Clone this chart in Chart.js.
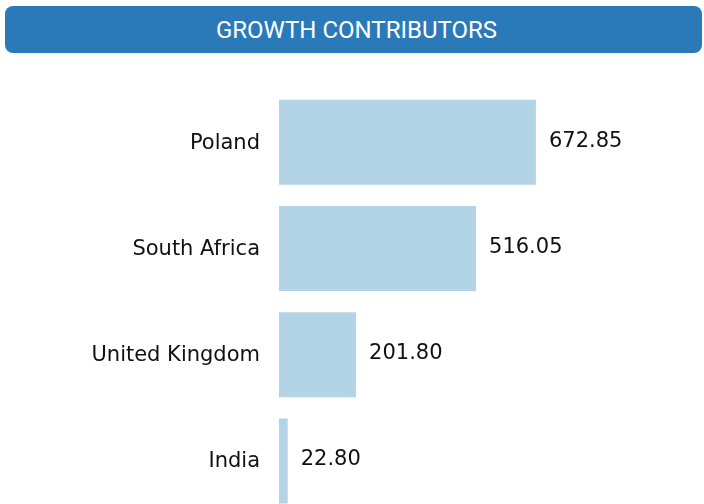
<!DOCTYPE html>
<html>
<head>
<meta charset="utf-8">
<script src="https://cdn.jsdelivr.net/npm/chart.js@4"></script>
<style>
  html, body { margin: 0; padding: 0; background: #fff; overflow: hidden; }
  body { width: 704px; height: 504px; position: relative; }
  .header {
    position: absolute; left: 5px; top: 6px; width: 697px; height: 47px;
    box-sizing: border-box; padding-left: 6px;
    background: #2a7aba; border-radius: 8px;
    color: #fff; font-family: Roboto, sans-serif; font-size: 24px;
    line-height: 49px; text-align: center;
  }
  .chart-box { position: absolute; left: 0; top: 89px; width: 704px; height: 425px; }
</style>
</head>
<body>
<div class="header">GROWTH CONTRIBUTORS</div>
<div class="chart-box"><canvas id="myChart"></canvas></div>
<script>
// countries and their contribution
const countries = ["Poland", "South Africa", "United Kingdom", "India"];
const contribution = [672.85, 516.05, 201.8, 22.8];

// write the value just right of each bar
const valueLabels = {
  id: "valueLabels",
  afterDatasetsDraw(chart) {
    const ctx = chart.ctx;
    const meta = chart.getDatasetMeta(0);
    ctx.save();
    ctx.font = "21px 'DejaVu Sans'";
    ctx.fillStyle = "#111";
    ctx.textAlign = "left";
    ctx.textBaseline = "middle";
    meta.data.forEach((bar, i) => {
      ctx.fillText(contribution[i].toFixed(2), bar.x + 13, bar.y - 1);
    });
    ctx.restore();
  },
};

const ctx = document.getElementById("myChart");
new Chart(ctx, {
  type: "bar",
  data: {
    labels: countries,
    datasets: [
      {
        data: contribution,
        backgroundColor: "#b3d4e6",
        borderWidth: 0,
        categoryPercentage: 1,
        barPercentage: 0.8,
      },
    ],
  },
  options: {
    indexAxis: "y",
    responsive: true,
    maintainAspectRatio: false,
    animation: false,
    layout: { padding: { top: 0, bottom: 0, left: 0, right: 5 } },
    plugins: {
      legend: { display: false },
      tooltip: { enabled: false },
    },
    scales: {
      x: {
        display: false,
        min: 0,
        max: 1100,
      },
      y: {
        grid: { display: false },
        border: { display: false },
        ticks: {
          color: "#111",
          padding: 11,
          labelOffset: 1,
          font: { family: "'DejaVu Sans'", size: 21 },
        },
        afterFit(scale) {
          // fixed label column, no extra room above/below the bars
          scale.width = 279;
          scale.paddingTop = 0;
          scale.paddingBottom = 0;
        },
      },
    },
  },
  plugins: [valueLabels],
});
</script>
</body>
</html>
